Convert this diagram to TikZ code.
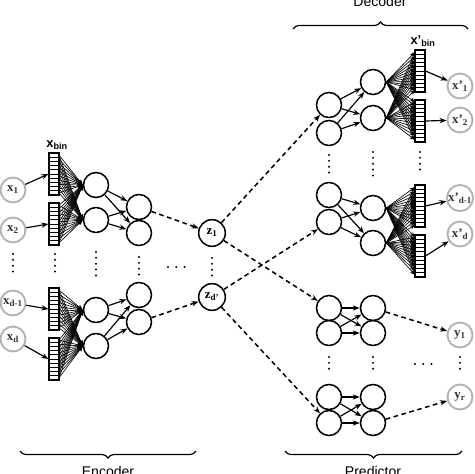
\documentclass[tikz,border=0pt]{standalone}
\usepackage{fontspec}
\setmainfont{Liberation Serif}
\setsansfont{Liberation Sans}
\usetikzlibrary{arrows.meta, decorations.pathreplacing}

% bar of binary cells: name, x, y (centre)
\newcommand{\binbar}[3]{%
  \node[binbox] (#1) at (#2,#3) {};
  \foreach \k in {1,...,10} {
    \coordinate (#1-w\k) at (#2-5,#3-21+\k*4.2-2.1);
    \coordinate (#1-e\k) at (#2+5,#3-21+\k*4.2-2.1);
  }
  \foreach \k in {1,...,9}
    \draw[line width=0.6pt] (#2-5,#3-21+\k*4.2) -- (#2+5,#3-21+\k*4.2);
}

\begin{document}
\begin{tikzpicture}[x=0.03cm, y=-0.03cm,
  neuron/.style={circle, draw, line width=1.3pt, minimum size=0.75cm, inner sep=0pt},
  io/.style={circle, draw=gray!60, line width=1.6pt, minimum size=0.75cm, inner sep=0pt,
    font=\fontsize{11}{13}\selectfont\bfseries, text=black!80},
  latent/.style={neuron, minimum size=0.8cm, font=\fontsize{11}{13}\selectfont\bfseries},
  binbox/.style={rectangle, draw, line width=1pt, fill=white, minimum width=0.3cm,
    minimum height=1.26cm, inner sep=0pt},
  conn/.style={-{Stealth[length=6pt,width=4.5pt]}, line width=1pt},
  fan/.style={-{Stealth[length=4.5pt,width=3.5pt]}, line width=0.55pt},
  dashconn/.style={conn, line width=1.3pt, dash pattern=on 4pt off 3pt},
  dotcol/.style={line width=1.9pt, line cap=round, dash pattern=on 0pt off 5pt},
  dotrow/.style={line width=1.9pt, line cap=round, dash pattern=on 0pt off 7pt},
  brace/.style={decorate, decoration={brace, amplitude=6pt}, line width=1pt},
  part/.style={font=\fontsize{12}{14}\selectfont\sffamily, anchor=base},
  binlabel/.style={font=\fontsize{11}{13}\selectfont\sffamily\bfseries}]
  \useasboundingbox (0,0) rectangle (474,474);

  % encoder
  \node[io] (x1) at (13,190) {x\textsubscript{1}};
  \node[io] (x2) at (13,230) {x\textsubscript{2}};
  \node[io] (xd1) at (13,303) {x\textsubscript{d-1}};
  \node[io] (xd) at (13,339) {x\textsubscript{d}};

  \binbar{b1}{54}{174}
  \binbar{b2}{54}{224}
  \binbar{b3}{54}{309}
  \binbar{b4}{54}{359}
  \node[binlabel] (xbin) at (57,145) {x\textsubscript{bin}};

  \node[neuron] (h11) at (96,185) {};
  \node[neuron] (h12) at (96,220) {};
  \node[neuron] (h13) at (96,310) {};
  \node[neuron] (h14) at (96,346) {};
  \node[neuron] (h21) at (139,207) {};
  \node[neuron] (h22) at (139,233) {};
  \node[neuron] (h23) at (139,295) {};
  \node[neuron] (h24) at (139,322) {};

  \draw[conn] (x1) -- (b1.west);
  \draw[conn] (x2) -- (b2.west);
  \draw[conn] (xd1) -- (b3.west);
  \draw[conn] (xd) -- (b4.west);

  \foreach \b in {b1,b2}
    \foreach \h in {h11,h12}
      \foreach \k in {1,...,10}
        \draw[fan] (\b-e\k) -- (\h.west);
  \foreach \b in {b3,b4}
    \foreach \h in {h13,h14}
      \foreach \k in {1,...,10}
        \draw[fan] (\b-e\k) -- (\h.west);

  \foreach \a/\c in {h11/h21, h11/h22, h12/h21, h12/h22, h13/h23, h13/h24, h14/h23, h14/h24}
    \draw[conn] (\a) -- (\c);

  \draw[dotcol] (13,254) -- (13,277);
  \draw[dotcol] (55,254) -- (55,277);
  \draw[dotcol] (96,252) -- (96,277);
  \draw[dotcol] (139,257) -- (139,275);
  \draw[dotrow] (168,267) -- (186,267);

  % latent space
  \node[latent] (z1) at (212,233) {z\textsubscript{1}};
  \node[latent] (zd) at (212,297) {z\textsubscript{d'}};
  \draw[dotcol] (212,258) -- (212,277);

  \draw[dashconn] (h21) -- (z1);
  \draw[dashconn] (h24) -- (zd);

  % decoder
  \node[neuron] (da1) at (329,105) {};
  \node[neuron] (da2) at (329,133) {};
  \node[neuron] (da3) at (329,195) {};
  \node[neuron] (da4) at (329,222) {};
  \node[neuron] (db1) at (373,82) {};
  \node[neuron] (db2) at (373,118) {};
  \node[neuron] (db3) at (373,208) {};
  \node[neuron] (db4) at (373,243) {};

  \binbar{c1}{420}{71}
  \binbar{c2}{420}{121}
  \binbar{c3}{420}{206}
  \binbar{c4}{420}{256}
  \node[binlabel] (xbin') at (423,41) {x'\textsubscript{bin}};

  \node[io] (o1) at (460,86) {x'\textsubscript{1}};
  \node[io] (o2) at (460,120) {x'\textsubscript{2}};
  \node[io] (o3) at (460,198) {x'\textsubscript{d-1}};
  \node[io] (o4) at (460,234) {x'\textsubscript{d}};

  \foreach \a/\c in {da1/db1, da1/db2, da2/db1, da2/db2, da3/db3, da3/db4, da4/db3, da4/db4}
    \draw[conn] (\a) -- (\c);

  \foreach \h in {db1,db2}
    \foreach \b in {c1,c2}
      \foreach \k in {1,...,10}
        \draw[fan] (\h.east) -- (\b-w\k);
  \foreach \h in {db3,db4}
    \foreach \b in {c3,c4}
      \foreach \k in {1,...,10}
        \draw[fan] (\h.east) -- (\b-w\k);

  \draw[conn] (c1.east) -- (o1);
  \draw[conn] (c2.east) -- (o2);
  \draw[conn] (c3.east) -- (o3);
  \draw[conn] (c4.east) -- (o4);

  \draw[dotcol] (329,155) -- (329,173);
  \draw[dotcol] (373,152) -- (373,176);
  \draw[dotcol] (420,152) -- (420,174);

  % predictor
  \node[neuron] (pa1) at (329,308) {};
  \node[neuron] (pa2) at (329,333) {};
  \node[neuron] (pa3) at (329,397) {};
  \node[neuron] (pa4) at (329,423) {};
  \node[neuron] (pb1) at (373,308) {};
  \node[neuron] (pb2) at (373,333) {};
  \node[neuron] (pb3) at (373,397) {};
  \node[neuron] (pb4) at (373,423) {};
  \node[io] (y1) at (460,335) {y\textsubscript{1}};
  \node[io] (yr) at (460,397) {y\textsubscript{r}};

  \foreach \a/\c in {pa1/pb1, pa1/pb2, pa2/pb1, pa2/pb2, pa3/pb3, pa3/pb4, pa4/pb3, pa4/pb4}
    \draw[conn] (\a) -- (\c);

  \draw[dashconn] (pb1) -- (y1);
  \draw[dashconn] (pb4) -- (yr);

  \draw[dotcol] (329,357) -- (329,374);
  \draw[dotcol] (373,357) -- (373,374);
  \draw[dotcol] (460,357) -- (460,374);
  \draw[dotrow] (415,364) -- (433,364);

  % latent to decoder and predictor
  \draw[dashconn] (z1) -- (da1);
  \draw[dashconn] (z1) -- (pa1);
  \draw[dashconn] (zd) -- (da4);
  \draw[dashconn] (zd) -- (pa4);

  % braces
  \draw[brace] (196,451) -- (20,451);
  \draw[brace] (462,451) -- (285,451);
  \draw[brace] (293,29) -- (468,29);
  \node[part] (enc) at (108,476) {Encoder};
  \node[part] (pred) at (373,476) {Predictor};
  \node[part] (dec) at (380,6) {Decoder};
\end{tikzpicture}
\end{document}
